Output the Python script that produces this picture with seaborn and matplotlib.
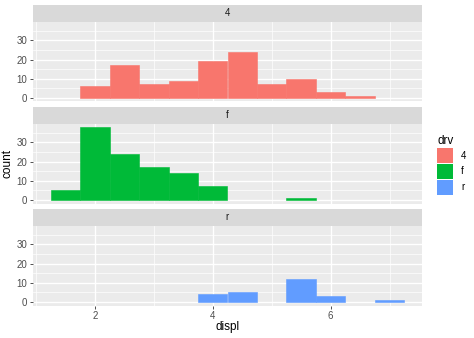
import matplotlib
matplotlib.use("Agg")
import matplotlib.pyplot as plt
from matplotlib.patches import Rectangle
import pandas as pd
import seaborn as sns

# Histogram of engine displacement by drive train (bin width 0.5 L)
bin_centers = [1.5, 2.0, 2.5, 3.0, 3.5, 4.0, 4.5, 5.0, 5.5, 6.0, 6.5, 7.0]
counts_4 = [0, 6, 17, 7, 9, 19, 24, 7, 10, 3, 1, 0]
counts_f = [5, 38, 24, 17, 14, 7, 0, 0, 1, 0, 0, 0]
counts_r = [0, 0, 0, 0, 0, 4, 5, 0, 12, 3, 0, 1]
drv_levels = ["4", "f", "r"]
drv_colors = ["#F8766D", "#00BA38", "#619CFF"]
x_ticks = [2, 4, 6]
y_ticks = [0, 10, 20, 30]

frames = []
for lvl, cnt in zip(drv_levels, [counts_4, counts_f, counts_r]):
    frames.append(pd.DataFrame({"displ": bin_centers, "n": cnt, "drv": lvl}))
df = pd.concat(frames, ignore_index=True)

plt.rcParams["font.family"] = ["Liberation Sans", "DejaVu Sans"]

W, H = 474, 338
fig = plt.figure(figsize=(W / 100, H / 100), dpi=100)
fig.patch.set_facecolor("white")

def fx(px):
    return px / W

def fy(py):
    return 1 - py / H

left, right = 33, 422
strip_h, panel_h, gap = 16.5, 80, 5.5
xlim = (0.95, 7.55)
ylim = (-1.9, 39.9)

top = 5
for i, (lvl, col) in enumerate(zip(drv_levels, drv_colors)):
    # facet strip
    sax = fig.add_axes([fx(left), fy(top + strip_h), fx(right - left), strip_h / H])
    sax.set_facecolor("#D9D9D9")
    sax.set_xticks([]); sax.set_yticks([])
    for s in sax.spines.values():
        s.set_visible(False)
    sax.text(0.5, 0.5, lvl, ha="center", va="center", fontsize=7,
             color="#1A1A1A", transform=sax.transAxes)
    ptop = top + strip_h
    ax = fig.add_axes([fx(left), fy(ptop + panel_h), fx(right - left), panel_h / H])
    ax.set_facecolor("#EBEBEB")
    sub = df[df["drv"] == lvl].reset_index(drop=True)
    sns.histplot(data=sub, x="displ", weights="n", binwidth=0.5,
                 binrange=(1.25, 7.25), color=col, alpha=1, linewidth=0.4,
                 edgecolor=col, ax=ax, zorder=3)
    # empty bins stay invisible
    for p in ax.patches:
        if p.get_height() == 0:
            p.set_visible(False)
    ax.set_xlim(*xlim)
    ax.set_ylim(*ylim)
    ax.set_xticks(x_ticks)
    ax.set_xticks([1, 3, 5, 7], minor=True)
    ax.set_yticks(y_ticks)
    ax.set_yticks([5, 15, 25, 35], minor=True)
    ax.grid(which="major", color="white", linewidth=1.0, zorder=0)
    ax.grid(which="minor", color="white", linewidth=0.5, zorder=0)
    ax.set_axisbelow(True)
    for s in ax.spines.values():
        s.set_visible(False)
    ax.tick_params(which="major", length=2.5, width=0.6, color="#333333",
                   labelsize=7, labelcolor="#4D4D4D", pad=1.5)
    ax.tick_params(which="minor", length=0)
    ax.set_xlabel("")
    ax.set_ylabel("")
    if i < 2:
        ax.tick_params(axis="x", which="major", labelbottom=False, length=0)
    top = ptop + panel_h + gap

fig.text(fx((left + right) / 2), fy(327), "displ", ha="center", va="center",
         fontsize=8.5, color="black")
fig.text(fx(8), fy(163.5), "count", ha="center", va="center", rotation=90,
         fontsize=8.5, color="black")

# legend
fig.text(fx(437), fy(141), "drv", ha="left", va="center", fontsize=8.5, color="black")
key_tops = [148, 164, 180]
for kt, lvl, col in zip(key_tops, drv_levels, drv_colors):
    fig.patches.append(Rectangle((fx(437), fy(kt + 15)), fx(16), 15 / H,
                                 transform=fig.transFigure, facecolor=col,
                                 edgecolor="none"))
    fig.text(fx(461), fy(kt + 7.5), lvl, ha="left", va="center", fontsize=7,
             color="black")

fig.savefig("out.png", dpi=100)
